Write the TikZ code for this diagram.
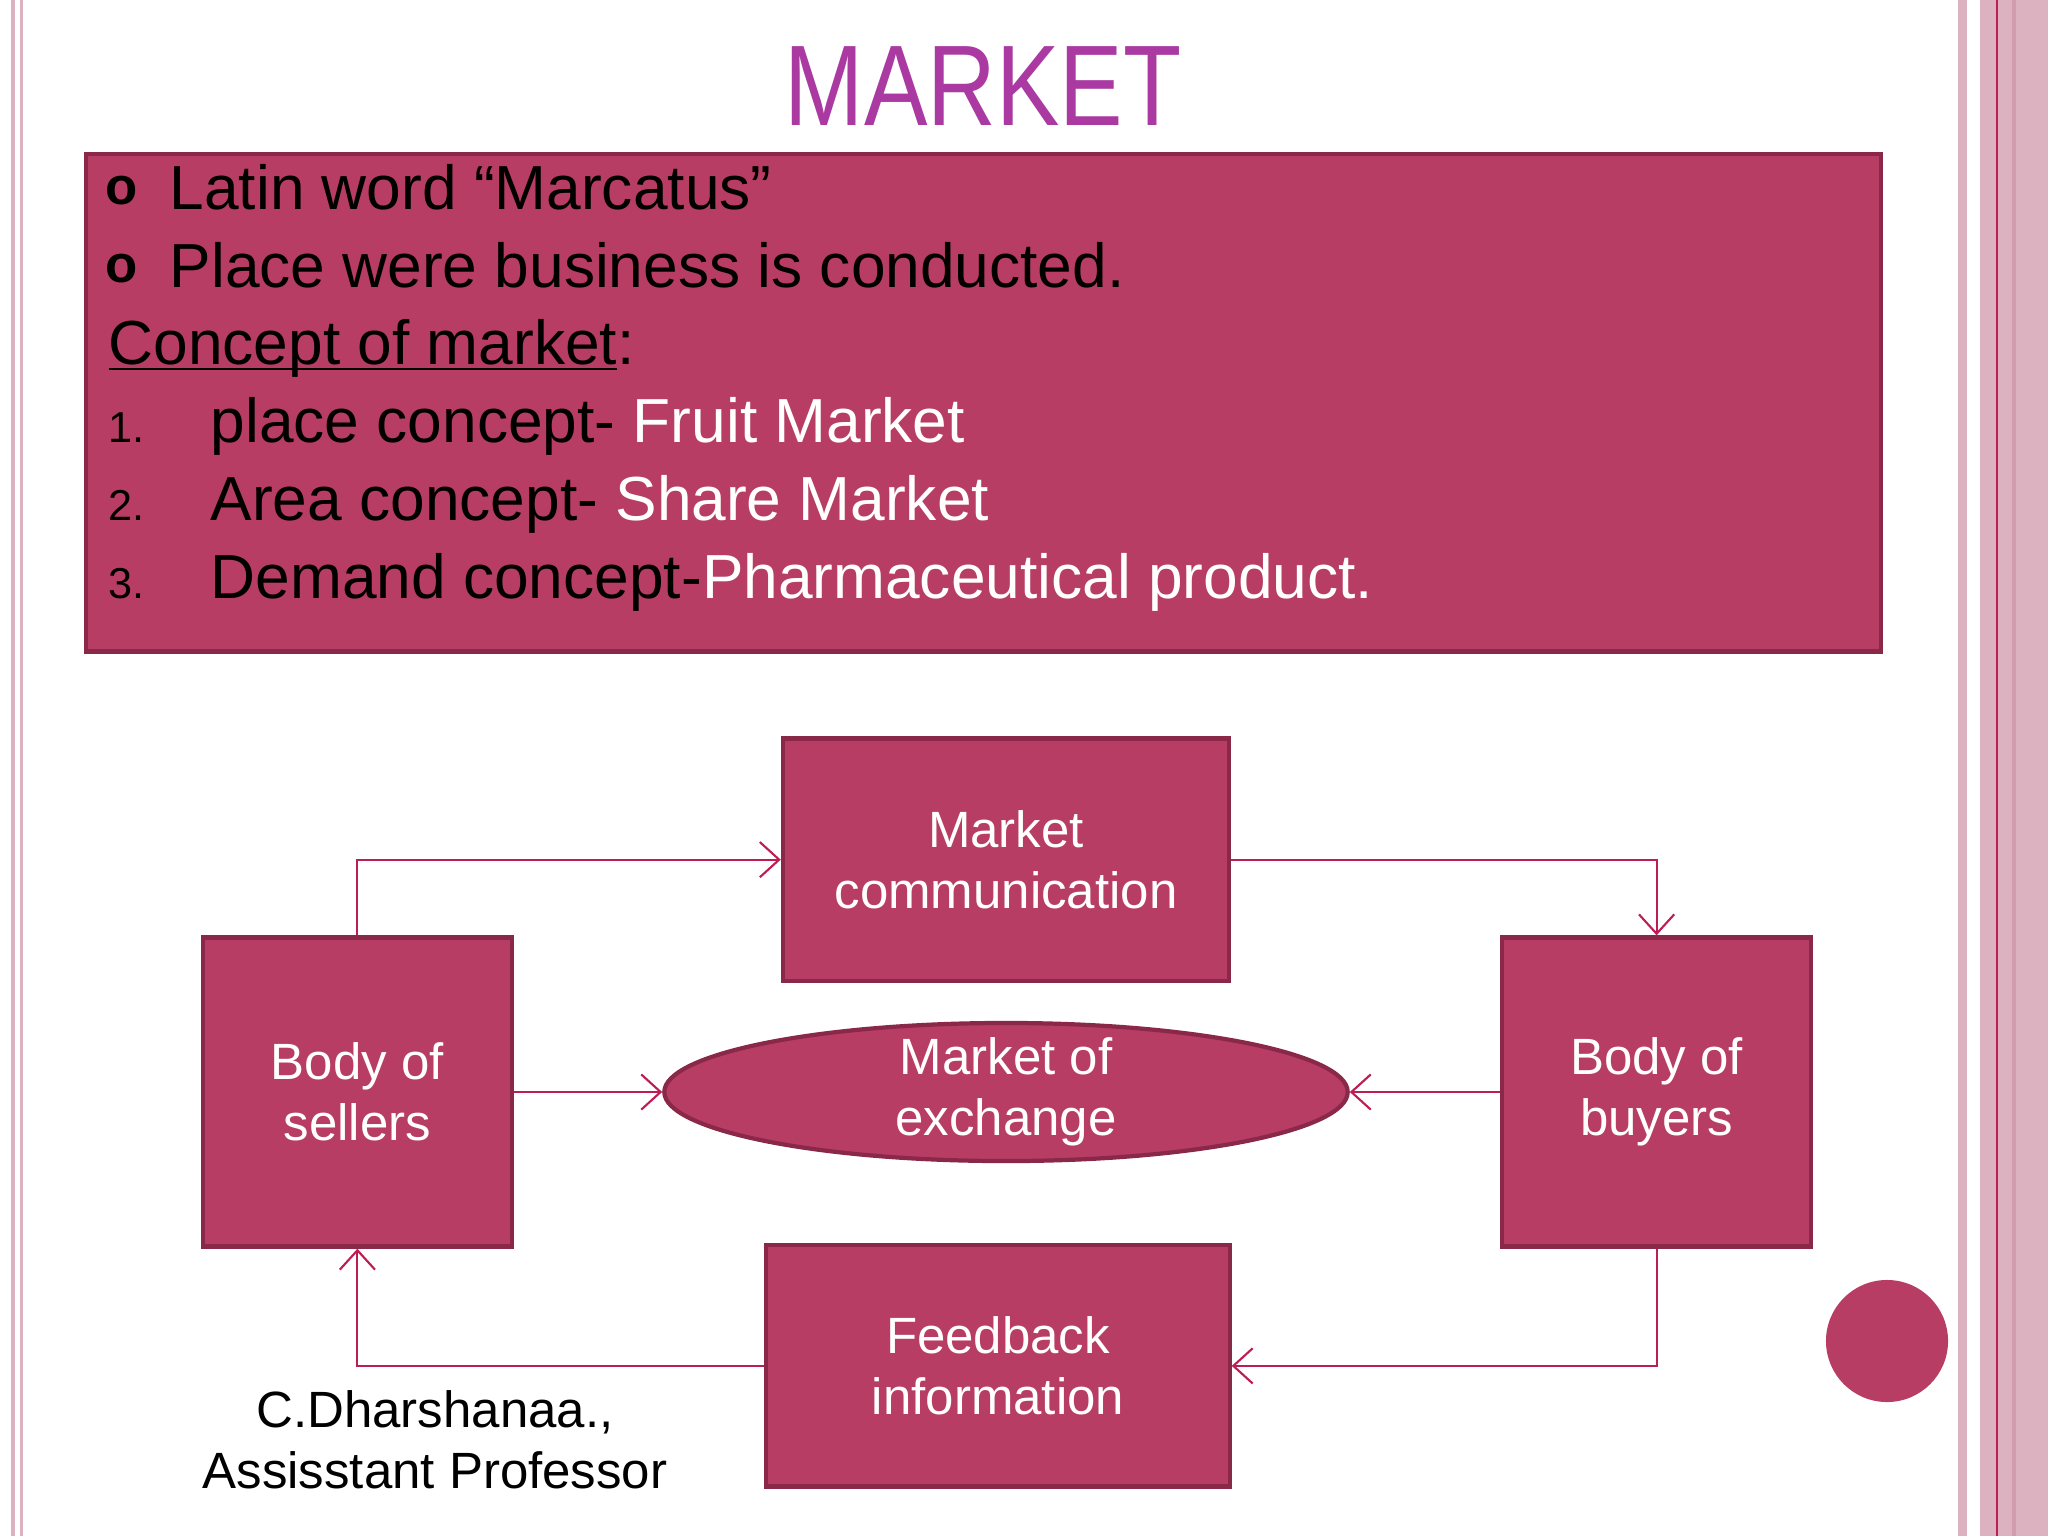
\documentclass[tikz,border=0pt]{standalone}
\usepackage{fontspec}
\setmainfont{Liberation Sans}
\usepackage{tikz}
\usetikzlibrary{arrows.meta,positioning,shapes.geometric}
\definecolor{mkbox}{RGB}{184,61,101}
\definecolor{mkedge}{RGB}{138,40,74}
\definecolor{mkline}{RGB}{190,28,84}
\definecolor{mktitle}{RGB}{170,58,162}
\definecolor{mkpink}{RGB}{220,178,193}
\definecolor{mkpinkdk}{RGB}{208,156,176}
\newcommand{\bigtxt}{\fontsize{17.7}{22}\selectfont}
\newcommand{\boxtxt}{\fontsize{14.5}{17.4}\selectfont}
\newcommand{\numtxt}{\fontsize{12.3}{14}\selectfont}
\newcommand{\dottxt}{\fontsize{15}{15}\selectfont\bfseries}

\begin{document}
\begin{tikzpicture}[x=0.01cm, y=-0.01cm]
    \tikzstyle{box}=[draw=mkedge, line width=1.2pt, fill=mkbox, text=white, align=center, font=\boxtxt, inner sep=0pt]
    \tikzstyle{link}=[draw=mkline, line width=0.6pt, -{Straight Barb[length=5.5pt,width=10pt]}]
    \tikzstyle{textline}=[anchor=base west, font=\bigtxt, inner sep=0pt]
    \useasboundingbox[fill=white] (0,0) rectangle (2048,1536);
    % page borders
    \fill[mkpink] (11,0) rectangle (15,1536);
    \fill[mkpink] (20,0) rectangle (23,1536);
    \fill[mkpink] (1958,0) rectangle (1967,1536);
    \fill[mkpink] (1980,0) rectangle (2048,1536);
    \fill[mkpinkdk] (2012,0) rectangle (2016,1536);
    \draw[mkline, line width=0.3pt] (1997,0) -- (1997,1536);
    % title and definition panel
    \node[anchor=base, text=mktitle, font=\fontsize{32.6}{34}\selectfont, inner sep=0pt] (title) at (983,125) {\scalebox{0.83}[1]{MARKET}};
    \node[draw=mkedge, line width=1.2pt, fill=mkbox, anchor=north west, minimum width=17.94cm, minimum height=4.97cm] (panel) at (84,152) {};
    \node[anchor=base, font=\dottxt, inner sep=0pt] (b1) at (122,204) {o};
    \node[textline] (l1) at (169,209) {Latin word “Marcatus”};
    \node[anchor=base, font=\dottxt, inner sep=0pt] (b2) at (122,282) {o};
    \node[textline] (l2) at (169,287) {Place were business is conducted.};
    \node[textline] (l3) at (108,364) {\underline{\smash{Concept of market}}:};
    \node[textline, font=\numtxt] (n1) at (108,442) {1.};
    \node[textline] (l4) at (210,442) {place concept- \textcolor{white}{Fruit Market}};
    \node[textline, font=\numtxt] (n2) at (108,520) {2.};
    \node[textline] (l5) at (210,520) {Area concept- \textcolor{white}{Share Market}};
    \node[textline, font=\numtxt] (n3) at (108,598) {3.};
    \node[textline] (l6) at (210,598) {Demand concept-\textcolor{white}{Pharmaceutical product.}};
    % flow diagram
    \node[box, ellipse, minimum width=6.83cm, minimum height=1.38cm] (exch) at (1006,1092) {};
    \node[text=white, align=center, font=\boxtxt] (exchlbl) at (exch) {Market of\\exchange};
    \node[box, minimum width=3.09cm, minimum height=3.09cm, left=1.48cm of exch] (sellers) {Body of\\sellers};
    \node[box, minimum width=3.09cm, minimum height=3.09cm, right=1.50cm of exch] (buyers) {Body of\\buyers};
    \node[box, minimum width=4.46cm, minimum height=2.42cm, above=0.38cm of exch] (comm) {Market\\communication};
    \node[box, minimum width=4.63cm, minimum height=2.41cm, below=0.80cm of exch, xshift=-0.08cm] (feed) {Feedback\\information};
    \draw[link] (sellers.north) |- (comm.west);
    \draw[link] (comm.east) -| (buyers.north);
    \draw[link] (sellers.east) -- (exch.west);
    \draw[link] (buyers.west) -- (exch.east);
    \draw[link] (buyers.south) |- (feed.east);
    \draw[link] (feed.west) -| (sellers.south);
    \node[circle, fill=mkbox, minimum size=1.22cm, inner sep=0pt] (dot) at (1887,1341) {};
    \node[font=\boxtxt, align=center] (author) at (435,1440) {C.Dharshanaa.,\\Assisstant Professor};
\end{tikzpicture}
\end{document}
